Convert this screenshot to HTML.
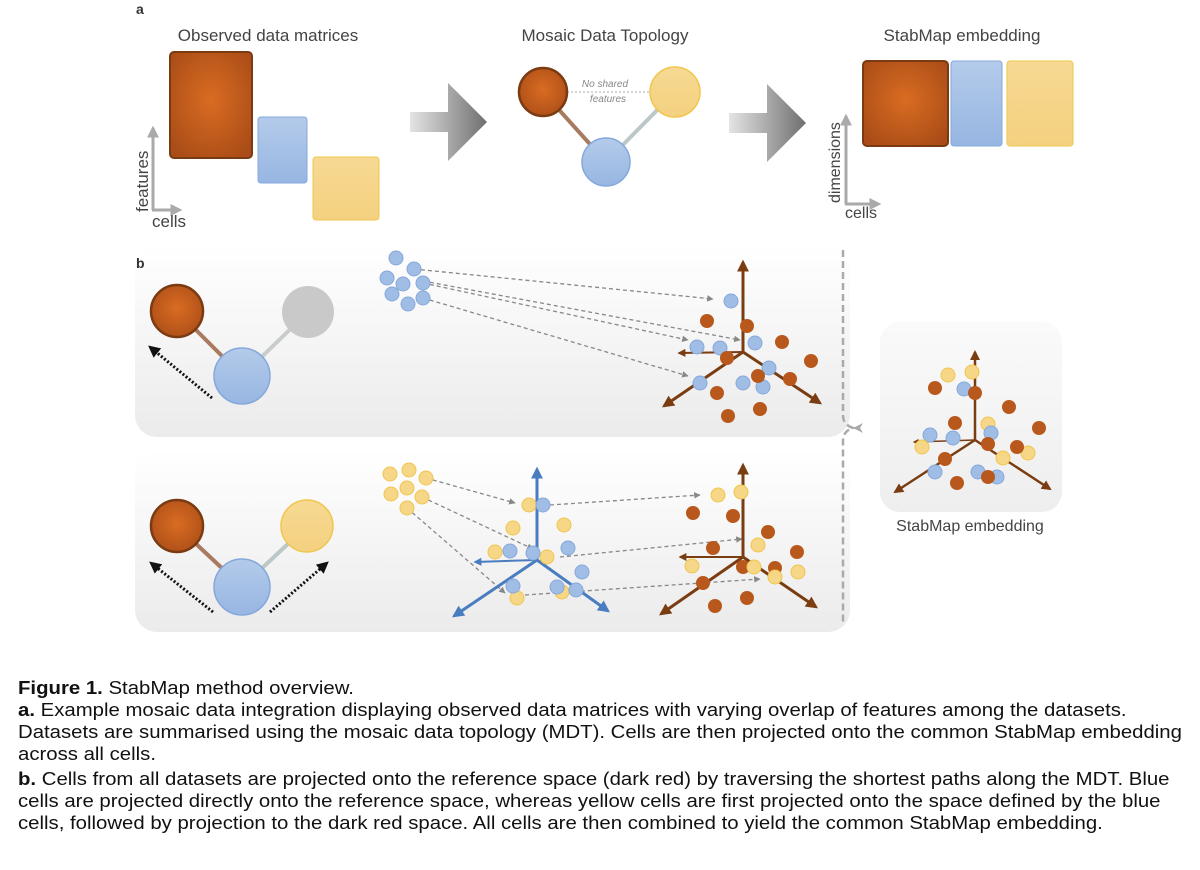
<!DOCTYPE html>
<html><head><meta charset="utf-8"><style>
html,body{margin:0;padding:0;background:#fff;}
body{width:1200px;height:870px;position:relative;overflow:hidden;font-family:"Liberation Sans",Arial,sans-serif;}
.cap{position:absolute;left:18px;font-size:18.5px;color:#111;white-space:nowrap;line-height:20px;transform:scaleX(1.1);transform-origin:0 0;}
</style></head><body>
<svg width="1200" height="670" viewBox="0 0 1200 670" style="position:absolute;left:0;top:0" font-family="Liberation Sans, Arial, sans-serif">
<defs>
<radialGradient id="og" cx="50%" cy="45%" r="65%"><stop offset="0" stop-color="#d96c22"/><stop offset="1" stop-color="#a94c17"/></radialGradient>
<linearGradient id="bg" x1="0" y1="0" x2="0" y2="1"><stop offset="0" stop-color="#b4cbea"/><stop offset="1" stop-color="#97b6e2"/></linearGradient>
<linearGradient id="yg" x1="0" y1="0" x2="0" y2="1"><stop offset="0" stop-color="#f7d993"/><stop offset="1" stop-color="#f4d180"/></linearGradient>
<linearGradient id="ag" x1="0" y1="0" x2="1" y2="0"><stop offset="0" stop-color="#e4e4e4"/><stop offset="1" stop-color="#6f6f6f"/></linearGradient>
<linearGradient id="pg" x1="0" y1="0" x2="0" y2="1"><stop offset="0" stop-color="#ffffff"/><stop offset="1" stop-color="#ebebeb"/></linearGradient>
<linearGradient id="pg2" x1="0" y1="0" x2="0" y2="1"><stop offset="0" stop-color="#fafafa"/><stop offset="1" stop-color="#eeeeee"/></linearGradient>
<marker id="ah" viewBox="0 0 10 10" refX="9" refY="5" markerWidth="5" markerHeight="5" orient="auto"><path d="M0,0L10,5L0,10z" fill="#888"/></marker>
<marker id="bh" viewBox="0 0 10 10" refX="8" refY="5" markerWidth="4" markerHeight="4" orient="auto"><path d="M0,0L10,5L0,10z" fill="#7a3d12"/></marker>
<marker id="blh" viewBox="0 0 10 10" refX="8" refY="5" markerWidth="4" markerHeight="4" orient="auto"><path d="M0,0L10,5L0,10z" fill="#4a7cc0"/></marker>
<marker id="gh" viewBox="0 0 10 10" refX="8" refY="5" markerWidth="4" markerHeight="4" orient="auto"><path d="M0,0L10,5L0,10z" fill="#aaa"/></marker>
<marker id="kh" viewBox="0 0 10 10" refX="8" refY="5" markerWidth="4" markerHeight="4" orient="auto"><path d="M0,0L10,5L0,10z" fill="#111"/></marker>
</defs>
<text x="136" y="14" font-size="14" font-weight="bold" fill="#333">a</text>
<text x="268" y="41" font-size="17" fill="#444" text-anchor="middle">Observed data matrices</text>
<text x="605" y="41" font-size="17" fill="#444" text-anchor="middle">Mosaic Data Topology</text>
<text x="962" y="41" font-size="17" fill="#444" text-anchor="middle">StabMap embedding</text>
<rect x="170" y="52" width="82" height="106" rx="4" fill="url(#og)" stroke="#7a3a12" stroke-width="2"/>
<rect x="258" y="117" width="49" height="66" rx="3" fill="url(#bg)" stroke="#85a8dc" stroke-width="1"/>
<rect x="313" y="157" width="66" height="63" rx="3" fill="url(#yg)" stroke="#efc64e" stroke-width="1"/>
<line x1="153" y1="210" x2="153" y2="128" stroke="#aaa" stroke-width="3" marker-end="url(#gh)"/>
<line x1="152" y1="210" x2="180" y2="210" stroke="#aaa" stroke-width="3" marker-end="url(#gh)"/>
<text transform="translate(148,212) rotate(-90)" font-size="17" fill="#444">features</text>
<text x="152" y="227" font-size="17" fill="#444">cells</text>
<path d="M410,112H448V83L487,122L448,161V132H410Z" fill="url(#ag)"/>
<path d="M729,113H767V84L806,123L767,162V133H729Z" fill="url(#ag)"/>
<line x1="543" y1="92" x2="606" y2="162" stroke="#a87a60" stroke-width="4"/>
<line x1="675" y1="92" x2="606" y2="162" stroke="#bcc8c8" stroke-width="4"/>
<line x1="567" y1="92" x2="649" y2="92" stroke="#aaa" stroke-width="1" stroke-dasharray="2,2"/>
<text x="605" y="87" font-size="10" font-style="italic" fill="#888" text-anchor="middle">No shared</text>
<text x="608" y="102" font-size="10" font-style="italic" fill="#888" text-anchor="middle">features</text>
<circle cx="543" cy="92" r="24" fill="url(#og)" stroke="#7a3a12" stroke-width="2.5"/>
<circle cx="675" cy="92" r="25" fill="url(#yg)" stroke="#efc64e" stroke-width="1.5"/>
<circle cx="606" cy="162" r="24" fill="url(#bg)" stroke="#85a8dc" stroke-width="1.5"/>
<rect x="863" y="61" width="85" height="85" rx="4" fill="url(#og)" stroke="#7a3a12" stroke-width="2"/>
<rect x="951" y="61" width="51" height="85" rx="3" fill="url(#bg)" stroke="#85a8dc" stroke-width="1"/>
<rect x="1007" y="61" width="66" height="85" rx="3" fill="url(#yg)" stroke="#efc64e" stroke-width="1"/>
<line x1="846" y1="204" x2="846" y2="116" stroke="#aaa" stroke-width="3" marker-end="url(#gh)"/>
<line x1="845" y1="204" x2="879" y2="204" stroke="#aaa" stroke-width="3" marker-end="url(#gh)"/>
<text transform="translate(840,203) rotate(-90)" font-size="16" fill="#444">dimensions</text>
<text x="845" y="218" font-size="16" fill="#444">cells</text>
<rect x="135" y="245" width="715" height="192" rx="22" fill="url(#pg)"/>
<rect x="135" y="450" width="715" height="182" rx="22" fill="url(#pg)"/>
<rect x="880" y="322" width="182" height="190" rx="20" fill="url(#pg2)"/>
<text x="136" y="268" font-size="14" font-weight="bold" fill="#333">b</text>
<path d="M843,250V415Q843,425 853,428Q843,431 843,441V622" fill="none" stroke="#aaa" stroke-width="2.5" stroke-dasharray="7,4"/>
<path d="M853,428L863,423L860,428L863,433Z" fill="#aaa"/>
<text x="970" y="531" font-size="16" fill="#444" text-anchor="middle">StabMap embedding</text>
<line x1="177" y1="311" x2="242" y2="376" stroke="#a87a60" stroke-width="4"/>
<line x1="308" y1="312" x2="242" y2="376" stroke="#c8cccc" stroke-width="4"/>
<circle cx="177" cy="311" r="26" fill="url(#og)" stroke="#7a3a12" stroke-width="2.5"/>
<circle cx="308" cy="312" r="26" fill="#c9c9c9"/>
<circle cx="242" cy="376" r="28" fill="url(#bg)" stroke="#85a8dc" stroke-width="1.5"/>
<line x1="212" y1="398" x2="150" y2="347" stroke="#111" stroke-width="3" stroke-dasharray="2,2" marker-end="url(#kh)"/>
<line x1="177" y1="526" x2="242" y2="587" stroke="#a87a60" stroke-width="4"/>
<line x1="307" y1="526" x2="242" y2="587" stroke="#bcc8c8" stroke-width="4"/>
<circle cx="177" cy="526" r="26" fill="url(#og)" stroke="#7a3a12" stroke-width="2.5"/>
<circle cx="307" cy="526" r="26" fill="url(#yg)" stroke="#efc64e" stroke-width="1.5"/>
<circle cx="242" cy="587" r="28" fill="url(#bg)" stroke="#85a8dc" stroke-width="1.5"/>
<line x1="213" y1="612" x2="151" y2="563" stroke="#111" stroke-width="3" stroke-dasharray="2,2" marker-end="url(#kh)"/>
<line x1="270" y1="612" x2="327" y2="563" stroke="#111" stroke-width="3" stroke-dasharray="2,2" marker-end="url(#kh)"/>
<g stroke="#888" stroke-width="1.3" stroke-dasharray="4,3" fill="none" marker-end="url(#ah)">
<line x1="414" y1="269" x2="713" y2="299"/>
<line x1="423" y1="283" x2="688" y2="340"/>
<line x1="423" y1="281" x2="740" y2="340"/>
<line x1="423" y1="298" x2="688" y2="376"/>
<line x1="426" y1="478" x2="515" y2="503"/>
<line x1="422" y1="497" x2="533" y2="549"/>
<line x1="407" y1="508" x2="505" y2="593"/>
<line x1="550" y1="505" x2="700" y2="495"/>
<line x1="560" y1="557" x2="742" y2="539"/>
<line x1="525" y1="595" x2="760" y2="579"/>
</g>
<g stroke="#7a3d12" stroke-width="3" marker-end="url(#bh)">
<line x1="743" y1="352" x2="743" y2="262"/>
<line x1="743" y1="352" x2="679" y2="353" stroke-width="2"/>
<line x1="743" y1="352" x2="664" y2="406"/>
<line x1="743" y1="352" x2="820" y2="403"/>
<line x1="743" y1="557" x2="743" y2="465"/>
<line x1="743" y1="557" x2="680" y2="557" stroke-width="2"/>
<line x1="743" y1="557" x2="661" y2="614"/>
<line x1="743" y1="557" x2="816" y2="607"/>
<line x1="975" y1="440" x2="975" y2="352" stroke-width="2.5"/>
<line x1="975" y1="440" x2="914" y2="442" stroke-width="1.5"/>
<line x1="975" y1="440" x2="895" y2="492" stroke-width="2.5"/>
<line x1="975" y1="440" x2="1050" y2="489" stroke-width="2.5"/>
</g>
<g stroke="#4a7cc0" stroke-width="3" marker-end="url(#blh)">
<line x1="537" y1="560" x2="537" y2="469"/>
<line x1="537" y1="560" x2="475" y2="562" stroke-width="2"/>
<line x1="537" y1="560" x2="454" y2="616"/>
<line x1="537" y1="560" x2="608" y2="611"/>
</g>
<g fill="#a0bde6" stroke="#86a8da" stroke-width="1">
<circle cx="396" cy="258" r="7"/><circle cx="414" cy="269" r="7"/><circle cx="387" cy="278" r="7"/><circle cx="403" cy="284" r="7"/><circle cx="423" cy="283" r="7"/><circle cx="392" cy="294" r="7"/><circle cx="408" cy="304" r="7"/><circle cx="423" cy="298" r="7"/>
<circle cx="731" cy="301" r="7"/><circle cx="697" cy="347" r="7"/><circle cx="720" cy="348" r="7"/><circle cx="755" cy="343" r="7"/><circle cx="769" cy="368" r="7"/><circle cx="700" cy="383" r="7"/><circle cx="743" cy="383" r="7"/><circle cx="763" cy="387" r="7"/>
</g>
<g fill="#b8581c">
<circle cx="707" cy="321" r="7"/><circle cx="747" cy="326" r="7"/><circle cx="782" cy="342" r="7"/><circle cx="811" cy="361" r="7"/><circle cx="727" cy="358" r="7"/><circle cx="758" cy="376" r="7"/><circle cx="790" cy="379" r="7"/><circle cx="717" cy="393" r="7"/><circle cx="760" cy="409" r="7"/><circle cx="728" cy="416" r="7"/>
<circle cx="693" cy="513" r="7"/><circle cx="733" cy="516" r="7"/><circle cx="768" cy="532" r="7"/><circle cx="713" cy="548" r="7"/><circle cx="797" cy="552" r="7"/><circle cx="743" cy="567" r="7"/><circle cx="775" cy="568" r="7"/><circle cx="703" cy="583" r="7"/><circle cx="747" cy="598" r="7"/><circle cx="715" cy="606" r="7"/>
</g>
<g fill="#f6d687" stroke="#f0c54e" stroke-width="1">
<circle cx="390" cy="474" r="7"/><circle cx="409" cy="470" r="7"/><circle cx="426" cy="478" r="7"/><circle cx="407" cy="488" r="7"/><circle cx="391" cy="494" r="7"/><circle cx="422" cy="497" r="7"/><circle cx="407" cy="508" r="7"/>
<circle cx="718" cy="495" r="7"/><circle cx="741" cy="492" r="7"/><circle cx="758" cy="545" r="7"/><circle cx="692" cy="566" r="7"/><circle cx="754" cy="567" r="7"/><circle cx="775" cy="577" r="7"/><circle cx="798" cy="572" r="7"/>
</g>
<g stroke-width="1">
<circle cx="529" cy="505" r="7" fill="#f6d687" stroke="#f0c54e"/><circle cx="543" cy="505" r="7" fill="#a0bde6" stroke="#86a8da"/>
<circle cx="513" cy="528" r="7" fill="#f6d687" stroke="#f0c54e"/><circle cx="564" cy="525" r="7" fill="#f6d687" stroke="#f0c54e"/>
<circle cx="495" cy="552" r="7" fill="#f6d687" stroke="#f0c54e"/><circle cx="510" cy="551" r="7" fill="#a0bde6" stroke="#86a8da"/>
<circle cx="533" cy="553" r="7" fill="#a0bde6" stroke="#86a8da"/><circle cx="547" cy="557" r="7" fill="#f6d687" stroke="#f0c54e"/>
<circle cx="568" cy="548" r="7" fill="#a0bde6" stroke="#86a8da"/><circle cx="582" cy="572" r="7" fill="#a0bde6" stroke="#86a8da"/>
<circle cx="517" cy="598" r="7" fill="#f6d687" stroke="#f0c54e"/><circle cx="513" cy="586" r="7" fill="#a0bde6" stroke="#86a8da"/>
<circle cx="562" cy="592" r="7" fill="#f6d687" stroke="#f0c54e"/><circle cx="557" cy="587" r="7" fill="#a0bde6" stroke="#86a8da"/>
<circle cx="576" cy="590" r="7" fill="#a0bde6" stroke="#86a8da"/>
</g>
<g stroke-width="1">
<circle cx="948" cy="375" r="7" fill="#f6d687" stroke="#f0c54e"/><circle cx="972" cy="372" r="7" fill="#f6d687" stroke="#f0c54e"/>
<circle cx="935" cy="388" r="7" fill="#b8581c" stroke="none"/><circle cx="964" cy="389" r="7" fill="#a0bde6" stroke="#86a8da"/>
<circle cx="975" cy="393" r="7" fill="#b8581c" stroke="none"/><circle cx="1009" cy="407" r="7" fill="#b8581c" stroke="none"/>
<circle cx="1039" cy="428" r="7" fill="#b8581c" stroke="none"/><circle cx="955" cy="423" r="7" fill="#b8581c" stroke="none"/>
<circle cx="988" cy="424" r="7" fill="#f6d687" stroke="#f0c54e"/><circle cx="991" cy="433" r="7" fill="#a0bde6" stroke="#86a8da"/>
<circle cx="930" cy="435" r="7" fill="#a0bde6" stroke="#86a8da"/><circle cx="953" cy="438" r="7" fill="#a0bde6" stroke="#86a8da"/>
<circle cx="922" cy="447" r="7" fill="#f6d687" stroke="#f0c54e"/><circle cx="988" cy="444" r="7" fill="#b8581c" stroke="none"/>
<circle cx="1028" cy="453" r="7" fill="#f6d687" stroke="#f0c54e"/><circle cx="1017" cy="447" r="7" fill="#b8581c" stroke="none"/>
<circle cx="1003" cy="458" r="7" fill="#f6d687" stroke="#f0c54e"/><circle cx="945" cy="459" r="7" fill="#b8581c" stroke="none"/>
<circle cx="935" cy="472" r="7" fill="#a0bde6" stroke="#86a8da"/><circle cx="978" cy="472" r="7" fill="#a0bde6" stroke="#86a8da"/>
<circle cx="997" cy="477" r="7" fill="#a0bde6" stroke="#86a8da"/><circle cx="988" cy="477" r="7" fill="#b8581c" stroke="none"/>
<circle cx="957" cy="483" r="7" fill="#b8581c" stroke="none"/>
</g>
</svg>
<div class="cap" style="top:678px"><b>Figure 1.</b> StabMap method overview.</div>
<div class="cap" style="top:700px"><b>a.</b> Example mosaic data integration displaying observed data matrices with varying overlap of features among the datasets.</div>
<div class="cap" style="top:722px">Datasets are summarised using the mosaic data topology (MDT). Cells are then projected onto the common StabMap embedding</div>
<div class="cap" style="top:744px">across all cells.</div>
<div class="cap" style="top:769px"><b>b.</b> Cells from all datasets are projected onto the reference space (dark red) by traversing the shortest paths along the MDT. Blue</div>
<div class="cap" style="top:791px">cells are projected directly onto the reference space, whereas yellow cells are first projected onto the space defined by the blue</div>
<div class="cap" style="top:813px">cells, followed by projection to the dark red space. All cells are then combined to yield the common StabMap embedding.</div>
</body></html>
